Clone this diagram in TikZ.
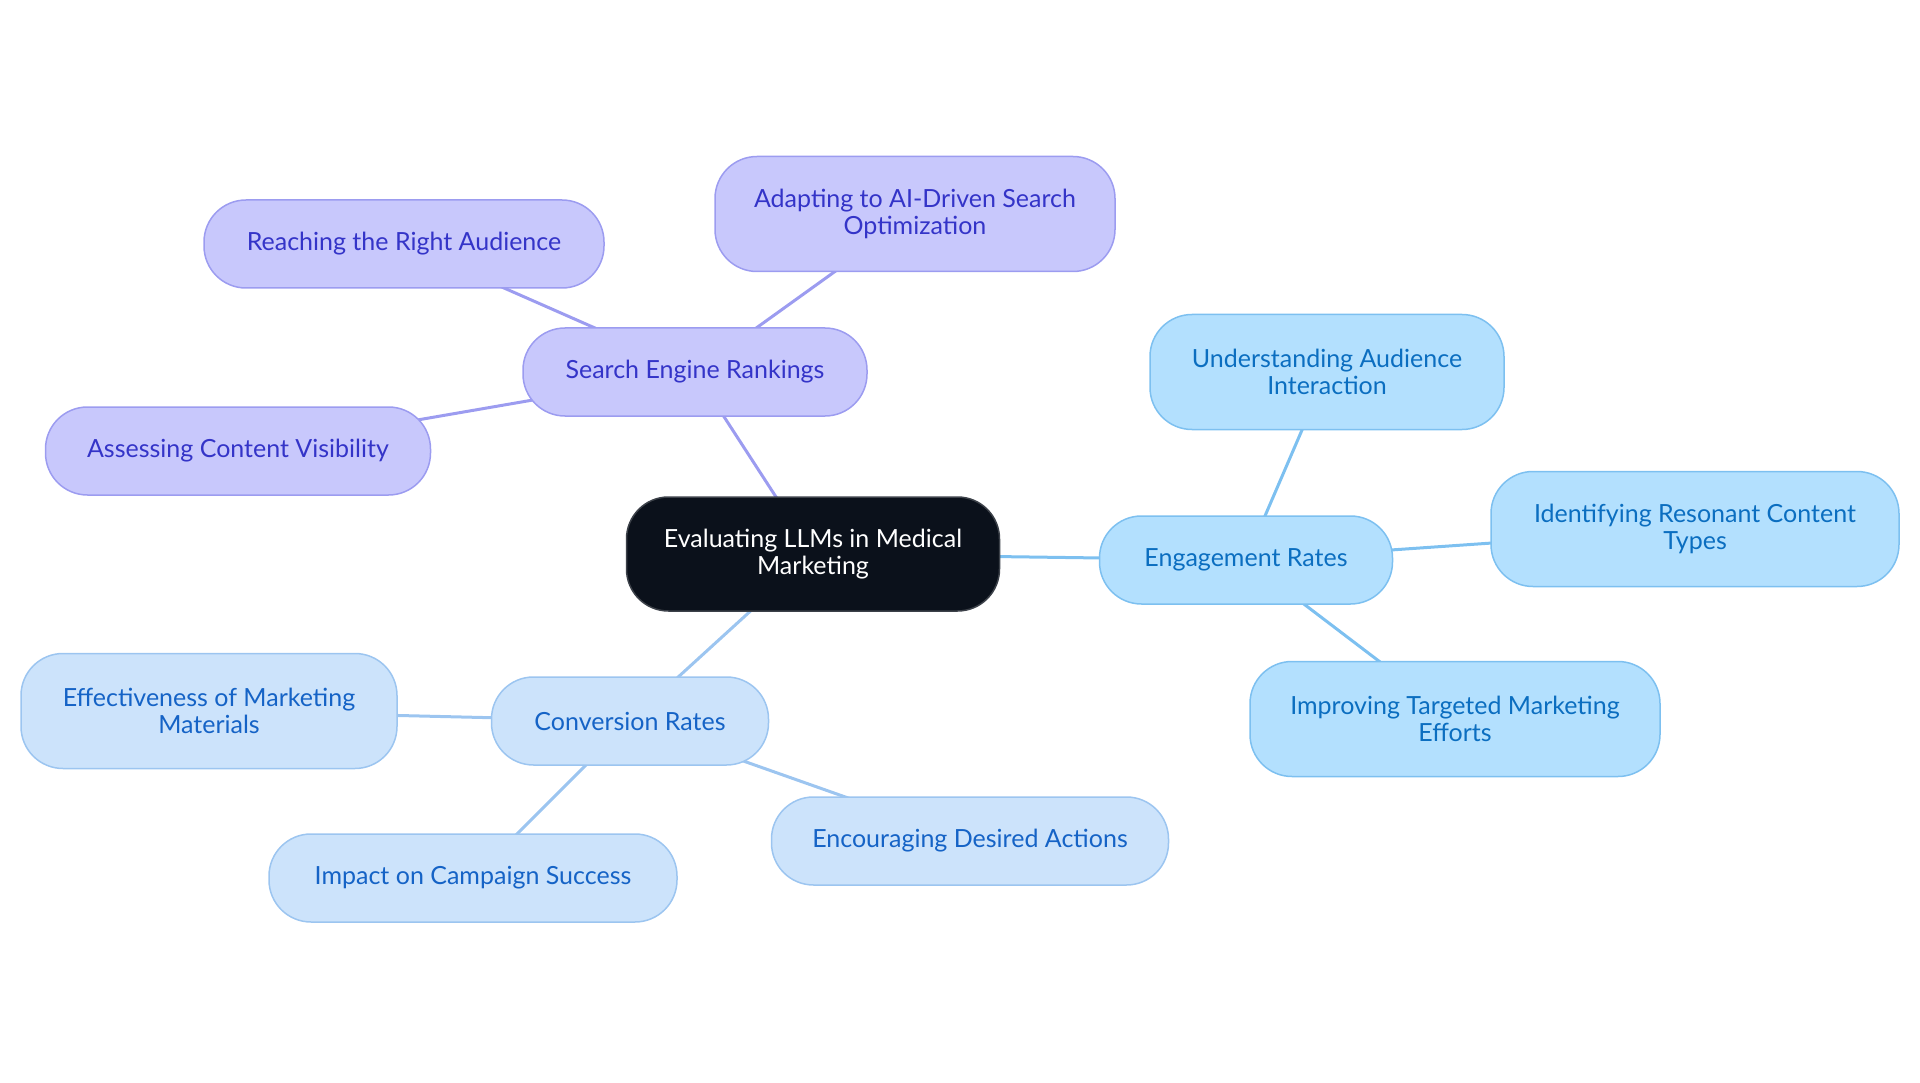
\documentclass[tikz,border=0pt]{standalone}
\usepackage{fontspec}
\setmainfont{Lato}
\usepackage{xcolor}
\usepackage{tikz}
\usetikzlibrary{backgrounds}
\definecolor{rootfill}{HTML}{0B111B}
\definecolor{purfill}{HTML}{C8C8FC}
\definecolor{purline}{HTML}{9C9CF0}
\definecolor{purtext}{HTML}{3434C8}
\definecolor{engfill}{HTML}{B3E0FE}
\definecolor{engline}{HTML}{7DC0F0}
\definecolor{engtext}{HTML}{0B6EC0}
\definecolor{convfill}{HTML}{CCE3FB}
\definecolor{convline}{HTML}{9CC5F0}
\definecolor{convtext}{HTML}{1563C6}
\tikzset{
  pill/.style={rounded corners=42pt, line width=1.5pt, inner sep=0pt, align=center,
    font=\fontsize{25}{27}\selectfont, minimum height=88pt},
  rootpill/.style={pill, fill=rootfill, draw=rootfill!80!white, text=white, minimum height=114pt},
  purpill/.style={pill, fill=purfill, draw=purline, text=purtext},
  engpill/.style={pill, fill=engfill, draw=engline, text=engtext},
  convpill/.style={pill, fill=convfill, draw=convline, text=convtext},
  twoline/.style={minimum height=115pt},
  branch/.style={line width=3pt}
}

\begin{document}
\begin{tikzpicture}[x=1pt, y=-1pt]
\useasboundingbox (0,0) rectangle (1920,1083);
\node[rootpill, minimum width=373pt] (root) at (813,554) {Evaluating LLMs in Medical\\Marketing};
% search engine rankings
\node[purpill, minimum width=344pt] (ser) at (695,372) {Search Engine Rankings};
\node[purpill, minimum width=400pt] (reach) at (404,244) {Reaching the Right Audience};
\node[purpill, twoline, minimum width=400pt] (adapt) at (915,214) {Adapting to AI-Driven Search\\Optimization};
\node[purpill, minimum width=385pt] (assess) at (238,451) {Assessing Content Visibility};
% engagement rates
\node[engpill, minimum width=293pt] (eng) at (1246,560) {Engagement Rates};
\node[engpill, twoline, minimum width=354pt] (under) at (1327,372) {Understanding Audience\\Interaction};
\node[engpill, twoline, minimum width=408pt] (ident) at (1695,529) {Identifying Resonant Content\\Types};
\node[engpill, twoline, minimum width=410pt] (impr) at (1455,719) {Improving Targeted Marketing\\Efforts};
% conversion rates
\node[convpill, minimum width=277pt] (conv) at (630,721) {Conversion Rates};
\node[convpill, twoline, minimum width=376pt] (effect) at (209,711) {Effectiveness of Marketing\\Materials};
\node[convpill, minimum width=408pt] (impact) at (473,878) {Impact on Campaign Success};
\node[convpill, minimum width=397pt] (encour) at (970,841) {Encouraging Desired Actions};
\begin{scope}[on background layer]
\draw[branch, purline] (root.center) -- (ser.center);
\draw[branch, purline] (ser.center) -- (reach.center);
\draw[branch, purline] (ser.center) -- (adapt.center);
\draw[branch, purline] (ser.center) -- (assess.center);
\draw[branch, engline] (root.center) -- (eng.center);
\draw[branch, engline] (eng.center) -- (under.center);
\draw[branch, engline] (eng.center) -- (ident.center);
\draw[branch, engline] (eng.center) -- (impr.center);
\draw[branch, convline] (root.center) -- (conv.center);
\draw[branch, convline] (conv.center) -- (effect.center);
\draw[branch, convline] (conv.center) -- (impact.center);
\draw[branch, convline] (conv.center) -- (encour.center);
\end{scope}
\end{tikzpicture}
\end{document}
